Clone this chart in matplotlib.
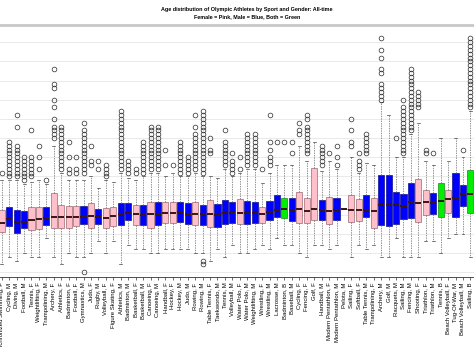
import matplotlib
matplotlib.use("Agg")
import matplotlib.pyplot as plt

plt.rcParams['font.family'] = ['Liberation Sans', 'DejaVu Sans']

# sports sorted by median age, suffix gives gender (F / M / B = both)
labels = [
    "Synchronized Swimming, F", "Cycling, M", "Diving, M", "Football, M", "Tennis, F",
    "Weightlifting, F", "Trampolining, M", "Archery, F", "Athletics, F", "Badminton, F",
    "Football, F", "Gymnastics, M", "Judo, F", "Rugby, M", "Volleyball, F",
    "Figure Skating, F", "Athletics, M", "Badminton, M", "Basketball, F", "Basketball, M",
    "Canoeing, F", "Canoeing, M", "Handball, F", "Hockey, F", "Hockey, M",
    "Judo, M", "Rowing, F", "Rowing, M", "Table Tennis, F", "Taekwondo, M",
    "Tennis, M", "Volleyball, M", "Water Polo, F", "Water Polo, M", "Weightlifting, M",
    "Wrestling, F", "Wrestling, M", "Lacrosse, M", "Badminton, B", "Baseball, M",
    "Cycling, F", "Fencing, F", "Golf, F", "Handball, M", "Modern Pentathlon, F",
    "Modern Pentathlon, M", "Pelota, M", "Sailing, F", "Softball, F", "Table Tennis, M",
    "Trampolining, F", "Archery, M", "Golf, M", "Racquets, M", "Sailing, M",
    "Fencing, M", "Shooting, F", "Triathlon, F", "Triathlon, M", "Tennis, B",
    "Beach Volleyball, F", "Tug-Of-War, M", "Beach Volleyball, M", "Sailing, B",
]

q1 = [20.5, 22.0, 20.3, 21.4, 21.0, 21.2, 22.3, 21.4, 21.4, 21.4,
      22.0, 22.5, 21.4, 22.5, 21.4, 22.0, 22.3, 23.6, 22.3, 22.3,
      21.4, 22.3, 22.7, 22.9, 23.2, 22.5, 22.3, 22.3, 21.9, 21.9,
      22.6, 22.9, 22.6, 22.6, 22.7, 22.9, 23.6, 24.5, 24.0, 23.3,
      22.9, 22.7, 23.6, 23.6, 22.6, 23.6, 26.4, 23.0, 23.4, 24.5,
      21.4, 22.3, 22.0, 22.6, 23.8, 24.0, 23.2, 24.9, 25.2, 24.5,
      25.5, 24.5, 27.3, 25.5]

med = [22.9, 23.8, 23.2, 23.2, 23.6, 23.8, 24.0, 24.5, 24.5, 24.5,
       24.5, 24.5, 24.6, 24.5, 24.0, 24.6, 25.2, 25.5, 25.1, 25.0,
       25.1, 25.1, 25.4, 25.4, 25.6, 25.2, 25.2, 25.1, 25.1, 24.9,
       25.5, 25.5, 25.5, 25.5, 25.4, 25.1, 25.8, 26.2, 26.5, 26.2,
       26.4, 26.0, 26.6, 26.2, 26.0, 26.2, 26.4, 26.2, 26.2, 26.3,
       26.0, 27.5, 27.5, 27.5, 27.3, 28.4, 28.1, 28.4, 28.1, 28.6,
       29.0, 29.3, 30.4, 30.4]

q3 = [26.2, 26.9, 26.2, 26.0, 26.9, 27.1, 27.1, 30.6, 27.5, 27.3,
      27.3, 27.3, 28.0, 26.5, 26.7, 27.0, 28.0, 28.0, 27.5, 27.5,
      28.4, 28.2, 28.4, 28.4, 28.4, 28.0, 28.4, 27.5, 28.8, 27.8,
      28.8, 28.2, 29.0, 28.5, 28.4, 27.1, 28.5, 30.1, 29.3, 29.3,
      31.0, 29.3, 37.1, 28.8, 29.5, 29.3, 26.4, 30.1, 29.0, 30.1,
      29.3, 35.4, 35.4, 31.0, 30.3, 33.2, 34.2, 31.4, 30.6, 33.2,
      31.4, 35.8, 32.7, 36.7]

lo = [12, 14, 13, 15, 14, 14, 19, 14, 12, 15,
      14, 14, 15, 18, 15, 18, 12, 17, 16, 16,
      15, 15, 16, 16, 16, 16, 15, 15, 13, 16,
      14, 17, 15, 15, 16, 17, 16, 19, 17, 17,
      15, 14, 17, 17, 16, 17, 26.4, 14, 17, 16,
      17, 14, 14, 19, 14, 14, 14, 18, 18, 15,
      19, 20, 20, 14]

hi = [34, 34, 34, 33, 33.5, 34, 33, 43, 36, 34,
      34, 34, 35, 32, 34, 33.6, 36, 34.5, 34, 35,
      36, 36, 35, 36, 35, 35, 36, 35, 35, 34.6,
      37, 35, 36, 37, 37, 33.3, 36, 38, 38, 38,
      43, 39, 44, 36.5, 39, 37, 26.4, 40, 36, 38.5,
      38, 54.5, 51, 40, 40, 46, 49, 39, 38, 45,
      39, 45, 40, 52]

fliers = [
    [36],
    [35, 36, 37, 38, 39, 40, 41, 42, 43, 44],
    [35, 36, 37, 38, 39, 40, 41, 42, 43, 48, 51],
    [34, 35, 36, 37, 38, 39, 40],
    [35, 36, 37, 38, 39, 40, 47],
    [37, 40, 43],
    [34],
    [45, 46, 47, 48, 50, 53, 55, 58, 59, 63],
    [37, 38, 39, 40, 41, 42, 43, 44, 45, 46, 47, 48],
    [36, 37, 40, 44],
    [36, 37, 40],
    [10, 36, 37, 38, 39, 40, 41, 42, 43, 44, 45, 46, 47, 49],
    [38, 39, 43],
    [37, 39],
    [35, 36, 37, 38],
    [],
    [37, 38, 39, 40, 41, 42, 43, 44, 45, 46, 47, 48, 49, 50, 51, 52],
    [36, 37, 38, 39],
    [36, 37],
    [36, 37, 38, 39, 40, 41, 42, 43, 44],
    [37, 38, 39, 40, 41, 42, 43, 44, 45, 46, 47, 48],
    [37, 38, 39, 40, 41, 42, 43, 44, 45, 46, 47, 48],
    [38, 42],
    [38],
    [36, 37, 38, 39, 40, 41, 42, 43, 44],
    [36, 37, 38, 39, 40],
    [37, 38, 39, 40, 41, 42, 43, 44, 45, 46, 48, 51],
    [12, 13, 36, 37, 38, 39, 40, 41, 42, 43, 44, 45, 46, 47, 48, 49, 50, 51, 52],
    [41, 42, 45],
    [],
    [38, 39, 40, 41, 42, 43, 44, 47],
    [36, 37, 38, 39, 41],
    [37, 40],
    [38, 39, 40, 41, 42, 43, 44, 45, 46],
    [38, 39, 40, 41, 42, 43, 44, 45, 46],
    [37],
    [38, 39, 40, 42, 44, 51],
    [44],
    [44],
    [41, 44],
    [46, 47, 49],
    [41, 42, 43, 44, 45, 46, 47, 48, 50, 51],
    [],
    [38, 39, 40, 41, 42, 43],
    [41],
    [38, 40, 43],
    [],
    [43, 44, 47, 50],
    [37, 38, 39, 41],
    [41, 42, 43, 44, 45, 46],
    [],
    [55, 56, 57, 58, 59, 62, 63, 66, 68, 71],
    [],
    [45],
    [41, 42, 43, 44, 45, 46, 47, 48, 49, 50, 51, 52, 53, 55],
    [47, 48, 49, 50, 51, 52, 53, 54, 55, 56, 57, 58, 59, 60, 61, 62, 63],
    [53, 54, 55, 56, 57],
    [41, 42],
    [41],
    [],
    [],
    [],
    [42],
    [53, 54, 55, 56, 57, 58, 59, 60, 61, 62, 63, 64, 65, 66, 67, 68, 69, 70, 71],
]

fill = {"F": "pink", "M": "blue", "B": "#00ee00"}
edge = {"F": "#9a6a72", "M": "#10108a", "B": "#1a8a1a"}

fig = plt.figure(figsize=(4.74, 3.47), dpi=100)
ax = fig.add_axes([0, 0.2017, 1, 0.7262])

stats = []
for i in range(len(labels)):
    stats.append(dict(label=labels[i], q1=q1[i], med=med[i], q3=q3[i],
                      whislo=lo[i], whishi=hi[i], fliers=fliers[i]))

pos = list(range(1, len(labels) + 1))
bp = ax.bxp(stats, positions=pos, widths=0.82, patch_artist=True, capwidths=0.4,
            whiskerprops=dict(color='#666666', lw=0.5, linestyle=(0, (2, 1.5))),
            capprops=dict(color='#444444', lw=0.5),
            medianprops=dict(color='#3a1515', lw=1.4),
            flierprops=dict(marker='o', markersize=3.4, markerfacecolor='none',
                            markeredgecolor='#2a2a2a', markeredgewidth=0.5))
for box, lab in zip(bp['boxes'], labels):
    g = lab.split(', ')[-1]
    box.set_facecolor(fill[g])
    box.set_edgecolor(edge[g])
    box.set_linewidth(0.5)

ax.set_xlim(0.771, 64.48)
ax.set_ylim(8.72, 74.5)
ax.set_yticks(range(10, 75, 5))
ax.yaxis.grid(True, color='#e6e6e6', lw=0.6)
ax.set_axisbelow(True)
ax.tick_params(axis='y', length=0, labelleft=False)

ax.set_xticks(pos)
ax.set_xticklabels(labels, rotation=90, fontsize=4.3)
ax.tick_params(axis='x', length=2.5, width=0.5, pad=1.5, color='#333333')

ax.spines['left'].set_visible(False)
ax.spines['right'].set_visible(False)
ax.spines['top'].set_color('#c8c8c8')
ax.spines['top'].set_linewidth(2)
ax.spines['bottom'].set_color('#333333')
ax.spines['bottom'].set_linewidth(0.6)

fig.text(0.521, 0.974, "Age distribution of Olympic Athletes by Sport and Gender: All-time",
         ha='center', va='center', fontsize=3.9, fontweight='bold')
fig.text(0.521, 0.953, "Female = Pink, Male = Blue, Both = Green",
         ha='center', va='center', fontsize=3.9, fontweight='bold')

fig.savefig("out.png", dpi=100)
